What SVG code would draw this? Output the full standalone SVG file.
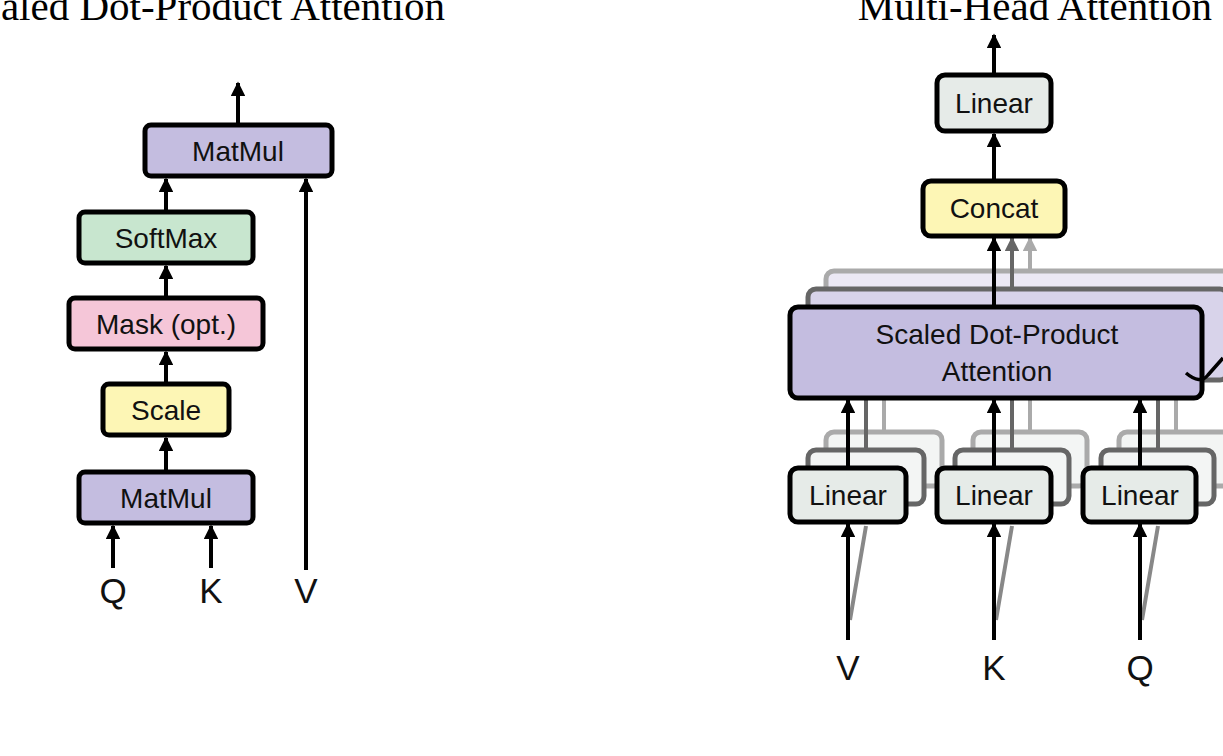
<svg xmlns="http://www.w3.org/2000/svg" width="1223" height="756" viewBox="0 0 1223 756">
<defs>
<marker id="a" viewBox="0 0 10 10" refX="9" refY="5" markerWidth="4.2" markerHeight="3.6" orient="auto"><path d="M0,0 L10,5 L0,10 z" fill="#000"/></marker>
<marker id="g1" viewBox="0 0 10 10" refX="9" refY="5" markerWidth="4.2" markerHeight="3.6" orient="auto"><path d="M0,0 L10,5 L0,10 z" fill="#666"/></marker>
<marker id="g2" viewBox="0 0 10 10" refX="9" refY="5" markerWidth="4.2" markerHeight="3.6" orient="auto"><path d="M0,0 L10,5 L0,10 z" fill="#aaa"/></marker>
</defs>
<style>
.t{font-family:"Liberation Serif",serif;font-size:41px;fill:#000}
.l{font-family:"Liberation Sans",Arial,sans-serif;font-size:28px;fill:#111;text-anchor:middle}
.q{font-family:"Liberation Sans",Arial,sans-serif;font-size:35px;fill:#111;text-anchor:middle}
.b{stroke:#000;stroke-width:5}
.s1{stroke:#666;stroke-width:5}
.s2{stroke:#aaa;stroke-width:5}
.c{stroke:#000;stroke-width:4;fill:none}
</style>
<rect width="1223" height="756" fill="#fff"/>
<text class="t" x="445" y="20" text-anchor="end">Scaled Dot-Product Attention</text>
<text class="t" x="1212" y="20" text-anchor="end">Multi-Head Attention</text>

<g id="connectors">
<line class="c" x1="238" y1="125" x2="238" y2="83" marker-end="url(#a)"/>
<line class="c" x1="166" y1="212" x2="166" y2="179" marker-end="url(#a)"/>
<line class="c" x1="166" y1="298" x2="166" y2="266" marker-end="url(#a)"/>
<line class="c" x1="166" y1="384" x2="166" y2="352" marker-end="url(#a)"/>
<line class="c" x1="166" y1="472" x2="166" y2="438" marker-end="url(#a)"/>
<line class="c" x1="113" y1="568" x2="113" y2="526" marker-end="url(#a)"/>
<line class="c" x1="211" y1="568" x2="211" y2="526" marker-end="url(#a)"/>
<line class="c" x1="306" y1="570" x2="306" y2="179" marker-end="url(#a)"/>
<line class="c" x1="994" y1="75" x2="994" y2="35" marker-end="url(#a)"/>
<line class="c" x1="994" y1="181" x2="994" y2="134" marker-end="url(#a)"/>
</g>

<g id="mm2"><rect class="b" x="145" y="125" width="187" height="51" rx="6" fill="#c4bde0"/><text class="l" x="238" y="161">MatMul</text></g>
<g id="softmax"><rect class="b" x="79" y="212" width="174" height="51" rx="6" fill="#c8e6cf"/><text class="l" x="166" y="248">SoftMax</text></g>
<g id="mask"><rect class="b" x="69" y="298" width="194" height="51" rx="6" fill="#f5c6d8"/><text class="l" x="166" y="334">Mask (opt.)</text></g>
<g id="scale"><rect class="b" x="103" y="384" width="126" height="51" rx="6" fill="#fdf6b5"/><text class="l" x="166" y="420">Scale</text></g>
<g id="mm1"><rect class="b" x="79" y="472" width="174" height="51" rx="6" fill="#c4bde0"/><text class="l" x="166" y="508">MatMul</text></g>
<text class="q" x="113" y="603">Q</text><text class="q" x="211" y="603">K</text><text class="q" x="306" y="603">V</text>

<g id="heads-back">
<rect class="s2" x="826" y="271" width="420" height="91" rx="8" fill="#ebe8f4"/>
<rect class="s1" x="808" y="289" width="420" height="91" rx="8" fill="#d8d3ea"/>
<g fill="#f3f5f4">
<rect class="s2" x="826" y="432" width="116" height="54" rx="8"/><rect class="s1" x="808" y="450" width="116" height="54" rx="8"/>
<rect class="s2" x="973" y="432" width="114" height="54" rx="8"/><rect class="s1" x="955" y="450" width="114" height="54" rx="8"/>
<rect class="s2" x="1119" y="432" width="113" height="54" rx="8"/><rect class="s1" x="1101" y="450" width="113" height="54" rx="8"/>
</g>
<g fill="none" stroke-width="4">
<line stroke="#aaa" x1="884" y1="432" x2="884" y2="362"/><line stroke="#666" x1="866" y1="450" x2="866" y2="380"/>
<line stroke="#aaa" x1="1030" y1="432" x2="1030" y2="362"/><line stroke="#666" x1="1012" y1="450" x2="1012" y2="380"/>
<line stroke="#aaa" x1="1176" y1="432" x2="1176" y2="362"/><line stroke="#666" x1="1158" y1="450" x2="1158" y2="380"/>
<line stroke="#aaa" x1="1030" y1="271" x2="1030" y2="238" marker-end="url(#g2)"/>
<line stroke="#666" x1="1012" y1="289" x2="1012" y2="238" marker-end="url(#g1)"/>
<path stroke="#888" d="M850,620 L866,526 M996,620 L1012,526 M1142,620 L1158,526"/>
</g>
</g>

<g id="connectors-mh">
<line class="c" x1="994" y1="307" x2="994" y2="238" marker-end="url(#a)"/>
<line class="c" x1="848" y1="468" x2="848" y2="400" marker-end="url(#a)"/>
<line class="c" x1="994" y1="468" x2="994" y2="400" marker-end="url(#a)"/>
<line class="c" x1="1140" y1="468" x2="1140" y2="400" marker-end="url(#a)"/>
<line class="c" x1="848" y1="640" x2="848" y2="524" marker-end="url(#a)"/>
<line class="c" x1="994" y1="640" x2="994" y2="524" marker-end="url(#a)"/>
<line class="c" x1="1140" y1="640" x2="1140" y2="524" marker-end="url(#a)"/>
</g>

<g id="linear-top"><rect class="b" x="937" y="75" width="114" height="56" rx="8" fill="#e6ebe8"/><text class="l" x="994" y="113">Linear</text></g>
<g id="concat"><rect class="b" x="923" y="181" width="142" height="55" rx="8" fill="#fdf6b5"/><text class="l" x="994" y="218">Concat</text></g>
<g id="sdpa"><rect class="b" x="790" y="307" width="412" height="91" rx="8" fill="#c4bde0"/><text class="l" x="997" y="344">Scaled Dot-Product</text><text class="l" x="997" y="381">Attention</text>
<path d="M1186,373 Q1200,385 1208,375 L1223,358" fill="none" stroke="#000" stroke-width="3.5"/></g>
<g id="lin-v"><rect class="b" x="790" y="468" width="116" height="54" rx="8" fill="#e6ebe8"/><text class="l" x="848" y="505">Linear</text></g>
<g id="lin-k"><rect class="b" x="937" y="468" width="114" height="54" rx="8" fill="#e6ebe8"/><text class="l" x="994" y="505">Linear</text></g>
<g id="lin-q"><rect class="b" x="1083" y="468" width="113" height="54" rx="8" fill="#e6ebe8"/><text class="l" x="1140" y="505">Linear</text></g>
<text class="q" x="848" y="680">V</text><text class="q" x="994" y="680">K</text><text class="q" x="1140" y="680">Q</text>
</svg>
